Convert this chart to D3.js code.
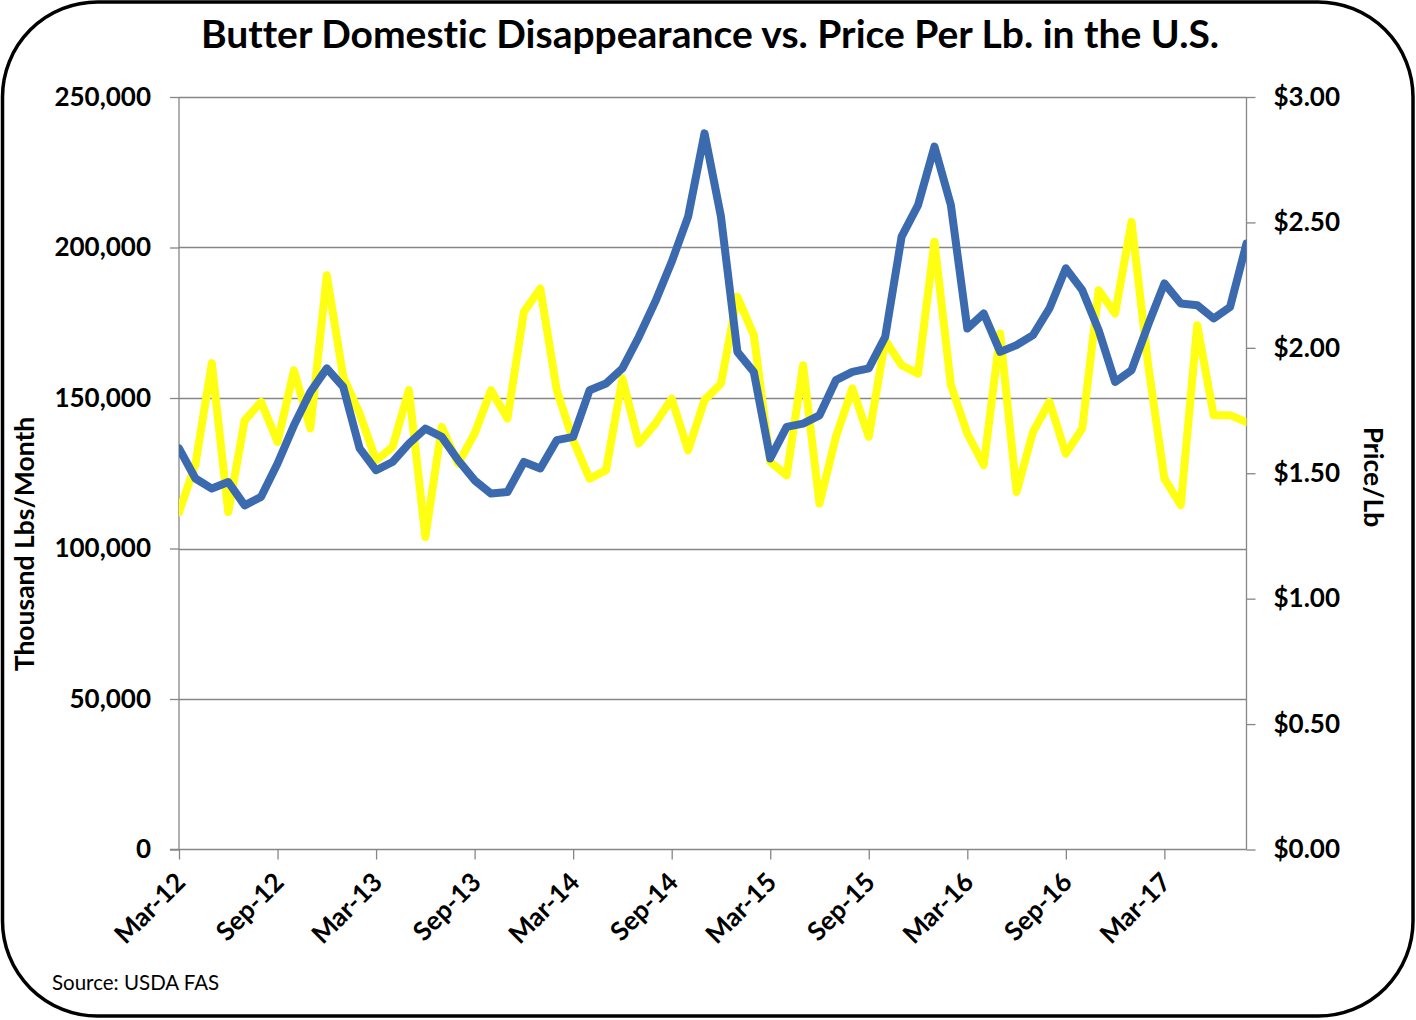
<!DOCTYPE html>
<html>
<head>
<meta charset="utf-8">
<script src="https://cdn.jsdelivr.net/npm/d3@7/dist/d3.min.js"></script>
<style>
  html, body { margin: 0; padding: 0; background: #fff; }
  svg { display: block; }
  text { font-family: Lato, "Open Sans", sans-serif; font-variant-ligatures: none; font-feature-settings: "liga" 0; }
</style>
</head>
<body>
<svg id="chart" width="1416" height="1020"></svg>
<script>
// ---------- DATA ----------
const months = [
  "Mar-12","Apr-12","May-12","Jun-12","Jul-12","Aug-12","Sep-12","Oct-12","Nov-12","Dec-12",
  "Jan-13","Feb-13","Mar-13","Apr-13","May-13","Jun-13","Jul-13","Aug-13","Sep-13","Oct-13","Nov-13","Dec-13",
  "Jan-14","Feb-14","Mar-14","Apr-14","May-14","Jun-14","Jul-14","Aug-14","Sep-14","Oct-14","Nov-14","Dec-14",
  "Jan-15","Feb-15","Mar-15","Apr-15","May-15","Jun-15","Jul-15","Aug-15","Sep-15","Oct-15","Nov-15","Dec-15",
  "Jan-16","Feb-16","Mar-16","Apr-16","May-16","Jun-16","Jul-16","Aug-16","Sep-16","Oct-16","Nov-16","Dec-16",
  "Jan-17","Feb-17","Mar-17","Apr-17","May-17","Jun-17","Jul-17","Aug-17"
];
// Domestic disappearance, thousand lbs/month (left axis)
const disappearance = [
  112000,128000,161600,112100,142600,148700,135400,159200,139900,190800,
  157000,144800,129300,133700,152600,103800,140400,128200,138200,152600,143200,178600,
  186400,152600,136000,123200,126000,156500,134900,141500,149800,132600,149300,154800,
  183600,170900,128800,124300,160900,114900,137100,153200,137100,169200,160900,158100,
  201900,154300,138200,127700,171400,118800,138700,148700,131500,139900,185800,178100,
  208500,161500,123200,114400,174200,144300,144300,142000
];
// Butter price, $/lb (right axis)
const price = [
  1.599,1.479,1.439,1.465,1.372,1.406,1.539,1.691,1.824,1.918,
  1.844,1.599,1.512,1.545,1.618,1.678,1.645,1.552,1.472,1.419,1.425,1.545,
  1.519,1.632,1.645,1.831,1.858,1.918,2.044,2.184,2.343,2.523,2.855,2.523,
  1.984,1.904,1.559,1.685,1.698,1.731,1.871,1.904,1.918,2.044,2.443,2.569,
  2.802,2.569,2.077,2.137,1.984,2.011,2.051,2.157,2.317,2.230,2.070,1.864,
  1.911,2.090,2.257,2.177,2.170,2.117,2.163,2.416
];
const xTickLabels = ["Mar-12","Sep-12","Mar-13","Sep-13","Mar-14","Sep-14","Mar-15","Sep-15","Mar-16","Sep-16","Mar-17"];
const leftTicks = [0,50000,100000,150000,200000,250000];
const rightTicks = [0,0.5,1.0,1.5,2.0,2.5,3.0];

const titleText = "Butter Domestic Disappearance vs. Price Per Lb. in the U.S.";
const leftTitle = "Thousand Lbs/Month";
const rightTitle = "Price/Lb";
const sourceText = "Source: USDA FAS";

// ---------- LAYOUT ----------
const svg = d3.select("#chart");
const L = 179, R = 1246.5, T = 97, B = 849.5;

svg.append("rect")
  .attr("x", 2.5).attr("y", 2).attr("width", 1410.5).attr("height", 1014)
  .attr("rx", 95).attr("ry", 95)
  .attr("fill", "#fff").attr("stroke", "#000").attr("stroke-width", 3.5);

const x = d3.scalePoint().domain(months).range([L, R]);
const yL = d3.scaleLinear().domain([0, 250000]).range([B, T]);
const yR = d3.scaleLinear().domain([0, 3]).range([B, T]);

const grey = "#868686";

// gridlines
svg.append("g")
  .selectAll("line").data(leftTicks.filter(d => d > 0)).join("line")
  .attr("x1", L).attr("x2", R)
  .attr("y1", d => Math.round(yL(d)) + 0.5).attr("y2", d => Math.round(yL(d)) + 0.5)
  .attr("stroke", grey).attr("stroke-width", 1.3);

// left axis
const leftAxis = svg.append("g")
  .attr("transform", `translate(${L},0)`)
  .call(d3.axisLeft(yL).tickValues(leftTicks).tickSize(9).tickPadding(19)
    .tickFormat(d3.format(",")));
// right axis
const rightAxis = svg.append("g")
  .attr("transform", `translate(${R},0)`)
  .call(d3.axisRight(yR).tickValues(rightTicks).tickSize(9).tickPadding(18)
    .tickFormat(d => "$" + d3.format(".2f")(d)));
// bottom axis
const bottomAxis = svg.append("g")
  .attr("transform", `translate(0,${B})`)
  .call(d3.axisBottom(x).tickValues(xTickLabels).tickSize(10).tickFormat(d => d));

[leftAxis, rightAxis, bottomAxis].forEach(g => {
  g.selectAll(".domain").attr("stroke", grey).attr("stroke-width", 1.3);
  g.selectAll(".tick line").attr("stroke", grey).attr("stroke-width", 1.3);
  g.selectAll("text").attr("fill", "#000").attr("font-weight", 700)
    .attr("font-size", 26).attr("font-family", "Lato, sans-serif");
});
leftAxis.select(".domain").attr("d", `M0,${T}V${B}`);
rightAxis.select(".domain").attr("d", `M0,${T}V${B}`);
bottomAxis.select(".domain").attr("d", `M${L - 9},0H${R}`);
bottomAxis.selectAll(".tick text")
  .attr("text-anchor", "end")
  .attr("transform", "translate(1,28) rotate(-45)")
  .attr("dy", "0.35em").attr("y", 0).attr("x", 0);

// ---------- LINES ----------
svg.append("clipPath").attr("id", "plotClip")
  .append("rect").attr("x", L).attr("y", 0).attr("width", R - L).attr("height", 1020);

const lineL = d3.line().x((d, i) => x(months[i])).y(d => yL(d));
const lineR = d3.line().x((d, i) => x(months[i])).y(d => yR(d));

const plot = svg.append("g").attr("clip-path", "url(#plotClip)");
plot.append("path").datum(disappearance)
  .attr("d", lineL).attr("fill", "none")
  .attr("stroke", "#ffff14").attr("stroke-width", 8)
  .attr("stroke-linejoin", "round").attr("stroke-linecap", "round");
plot.append("path").datum(price)
  .attr("d", lineR).attr("fill", "none")
  .attr("stroke", "#3c6aae").attr("stroke-width", 8)
  .attr("stroke-linejoin", "round").attr("stroke-linecap", "round");

// ---------- TEXT ----------
svg.append("text").attr("x", 710).attr("y", 48)
  .attr("text-anchor", "middle").attr("font-size", 39).attr("font-weight", 700)
  .text(titleText);

svg.append("text")
  .attr("transform", "translate(34,544) rotate(-90)")
  .attr("text-anchor", "middle").attr("font-size", 26.5).attr("font-weight", 700)
  .text(leftTitle);

svg.append("text")
  .attr("transform", "translate(1364,477) rotate(90)")
  .attr("text-anchor", "middle").attr("font-size", 26.5).attr("font-weight", 700)
  .text(rightTitle);

svg.append("text").attr("x", 52).attr("y", 990)
  .attr("font-size", 20.5).attr("font-weight", 400)
  .text(sourceText);
</script>
</body>
</html>
